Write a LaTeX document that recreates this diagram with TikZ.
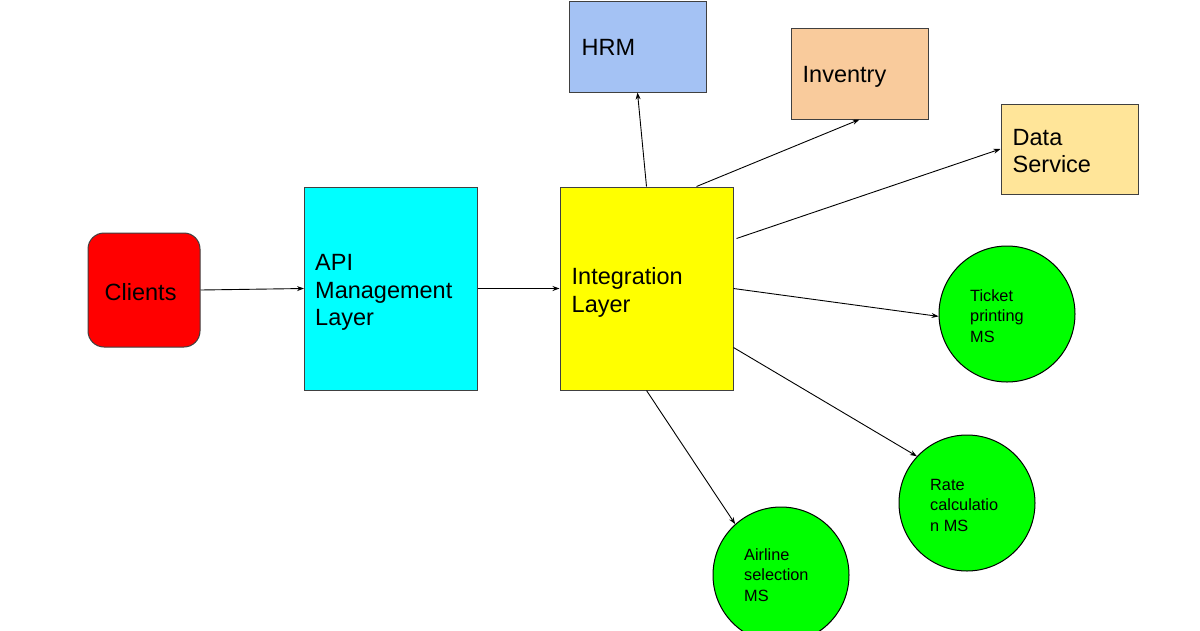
\documentclass[tikz,border=0pt]{standalone}
\usepackage{fontspec}
\setmainfont{Liberation Sans}
\usetikzlibrary{arrows.meta,calc,shapes.geometric}
\definecolor{cRed}{HTML}{FF0000}
\definecolor{cCyan}{HTML}{00FFFF}
\definecolor{cYellow}{HTML}{FFFF00}
\definecolor{cBlue}{HTML}{A4C2F4}
\definecolor{cOrange}{HTML}{F9CB9C}
\definecolor{cLight}{HTML}{FFE599}
\definecolor{cGreen}{HTML}{00FF00}
\definecolor{cBorder}{HTML}{404040}
\tikzset{
  bigtext/.style={font=\fontsize{23.5}{27.5}\selectfont, anchor=west, align=left, inner sep=0pt},
  smalltext/.style={font=\fontsize{16.3}{20.5}\selectfont, anchor=west, align=left, inner sep=0pt},
  boxnode/.style={draw=cBorder, line width=1pt, rectangle, inner sep=0pt},
  msnode/.style={draw=black, line width=1pt, circle, fill=cGreen, minimum size=136pt, inner sep=0pt},
  conn/.style={line width=0.9pt, -{Stealth[length=7pt,width=5pt]}}
}
\begin{document}
\begin{tikzpicture}[x=1pt,y=-1pt]
\useasboundingbox (0,0) rectangle (1200,630);
\clip (0,0) rectangle (1200,630);
\fill[white] (0,0) rectangle (1200,630);

\node[boxnode, fill=cRed, rounded corners=16pt, minimum width=112pt, minimum height=114pt] (cli) at (144,290) {};
\node[boxnode, fill=cCyan, minimum width=173pt, minimum height=203pt] (api) at (391,288.5) {};
\node[boxnode, fill=cYellow, minimum width=173pt, minimum height=203pt] (int) at (646.5,288.5) {};
\node[boxnode, fill=cBlue, minimum width=137pt, minimum height=91pt] (hrm) at (637.5,46.5) {};
\node[boxnode, fill=cOrange, minimum width=137pt, minimum height=91pt] (inv) at (859.5,73.5) {};
\node[boxnode, fill=cLight, minimum width=137pt, minimum height=90pt] (ds) at (1069.5,149) {};

\node[msnode] (tick) at (1007,314) {};
\node[msnode] (rate) at (967,503) {};
\node[msnode] (air) at (781,575) {};

\node[bigtext] (cliT) at ($(cli.west)+(17,2)$) {Clients};
\node[bigtext] (apiT) at ($(api.west)+(11,4)$) {API\\Management\\Layer};
\node[bigtext] (intT) at ($(int.west)+(12,4)$) {Integration\\Layer};
\node[bigtext] (hrmT) at ($(hrm.west)+(13,0.5)$) {HRM};
\node[bigtext] (invT) at ($(inv.west)+(12,3.5)$) {Inventry};
\node[bigtext] (dsT) at ($(ds.west)+(12,2)$) {Data\\Service};
\node[smalltext] (tickT) at ($(tick.center)+(-37,2)$) {Ticket\\printing\\MS};
\node[smalltext] (rateT) at ($(rate.center)+(-37,2)$) {Rate\\calculatio\\n MS};
\node[smalltext] (airT) at ($(air.center)+(-37,0)$) {Airline\\selection\\MS};

\draw[conn] (cli.east) -- (api.west);
\draw[conn] (api.east) -- (int.west);
\draw[conn] (int.north) -- (hrm.south);
\draw[conn] ($(int.north)+(50,0)$) -- (inv.south);
\draw[conn] ($(int.north east)+(3,52)$) -- (ds.west);
\draw[conn] (int.east) -- (tick.182);
\draw[conn] ($(int.east)+(0,59)$) -- (rate.137);
\draw[conn] (int.south) -- (air.132);
\end{tikzpicture}
\end{document}
